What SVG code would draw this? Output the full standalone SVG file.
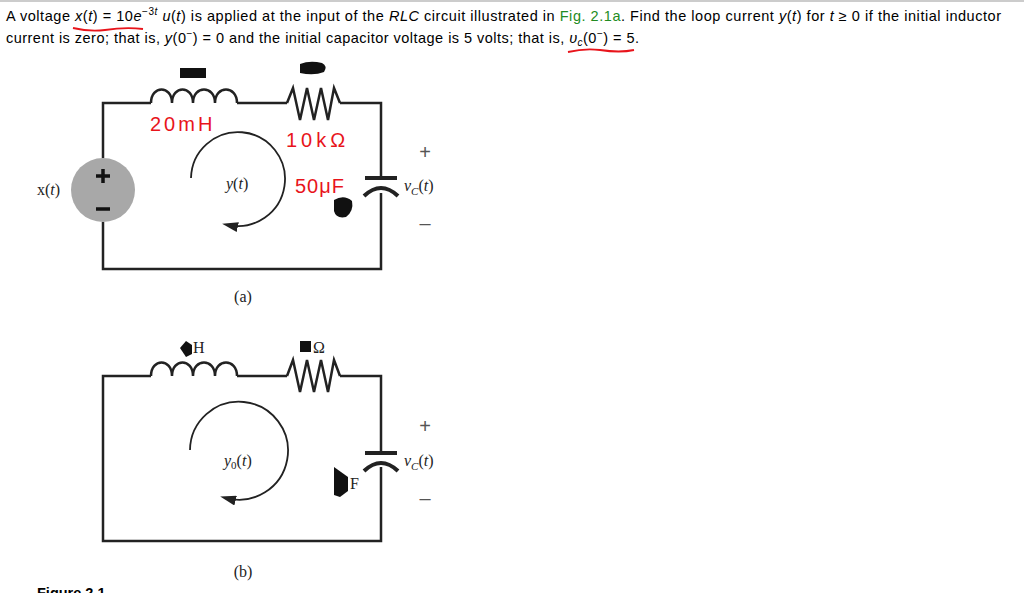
<svg xmlns="http://www.w3.org/2000/svg" width="1024" height="593" viewBox="0 0 1024 593">
<style>
.t{font-family:"Liberation Sans",Arial,sans-serif;font-size:14.5px;fill:#000}
.g{fill:#228B22}
.s{font-family:"Liberation Serif","Times New Roman",serif;font-size:16px;fill:#222}
.pm{font-family:"Liberation Sans",Arial,sans-serif;font-size:20px;fill:#555}
.w{fill:none;stroke:#222;stroke-width:2.5}
.c{fill:none;stroke:#222;stroke-width:4}
.r{font-family:"Liberation Sans",Arial,sans-serif;font-size:20px;fill:#e8141b}
.rl{fill:none;stroke:#e8141b;stroke-width:1.8}
</style>
<defs>
<marker id="ah" markerWidth="16" markerHeight="10" refX="10" refY="5" orient="auto" markerUnits="userSpaceOnUse"><path d="M0,0 L16,5 L0,10 Z" fill="#222"/></marker>
</defs>
<rect width="1024" height="593" fill="#fff"/>
<line x1="0" y1="1" x2="1024" y2="1" stroke="#ccc" stroke-width="2"/>
<text class="t" x="6" y="21" textLength="995" lengthAdjust="spacing">A voltage <tspan font-style="italic">x</tspan>(<tspan font-style="italic">t</tspan>) = 10<tspan font-style="italic">e</tspan><tspan font-size="10" dy="-6">−3<tspan font-style="italic">t</tspan></tspan><tspan dy="6"> <tspan font-style="italic">u</tspan>(<tspan font-style="italic">t</tspan>) is applied at the input of the <tspan font-style="italic">RLC</tspan> circuit illustrated in <tspan class="g">Fig. 2.1a</tspan>. Find the loop current <tspan font-style="italic">y</tspan>(<tspan font-style="italic">t</tspan>) for <tspan font-style="italic">t</tspan> ≥ 0 if the initial inductor</tspan></text>
<text class="t" x="6" y="43" textLength="633" lengthAdjust="spacing">current is zero; that is, <tspan font-style="italic">y</tspan>(0<tspan font-size="10" dy="-6">−</tspan><tspan dy="6">) = 0 and the initial capacitor voltage is 5 volts; that is, <tspan font-style="italic">υ</tspan><tspan font-size="10" dy="3" font-style="italic">c</tspan><tspan dy="-3">(0</tspan><tspan font-size="10" dy="-6">−</tspan><tspan dy="6">) = 5.</tspan></tspan></text>
<path class="rl" d="M73,28 Q90,32 105,30 Q125,27 143,29"/>
<path class="rl" d="M568,52 Q585,48 600,50 Q620,53 634,50"/>

<g id="circuit-a">
<path class="w" d="M151,103 H103 V158 M103,222 V269 H381 V193 M381,178 V103 H340 M287,103 H237"/>
<path class="w" d="M151,103 C151,85 172,85 172,103 C172,85 193,85 193,103 C193,85 215,85 215,103 C215,85 237,85 237,103"/>
<path class="w" d="M287,103 L293,88 L300,120 L307,88 L314,120 L321,88 L328,120 L334,88 L340,103"/>
<circle cx="103" cy="190" r="32" fill="#a8a8a8"/>
<path d="M96,176 H110 M103,169 V183" stroke="#111" stroke-width="3.5"/>
<path d="M96,209 H110" stroke="#111" stroke-width="3.5"/>
<path class="c" d="M365,178 H397"/>
<path class="c" d="M364,196 Q381,180 398,196"/>
<text class="s" x="60" y="195" text-anchor="end">x(<tspan font-style="italic">t</tspan>)</text>
<text class="s" x="226" y="189" font-style="italic">y<tspan font-style="normal">(</tspan>t<tspan font-style="normal">)</tspan></text>
<text class="s" x="404" y="191"><tspan font-style="italic">v</tspan><tspan font-size="11" dy="4" font-style="italic">C</tspan><tspan dy="-4">(<tspan font-style="italic">t</tspan>)</tspan></text>
<text class="pm" x="425" y="159" text-anchor="middle">+</text>
<text class="pm" x="425" y="230" text-anchor="middle">–</text>
<path fill="none" stroke="#222" stroke-width="1.8" marker-end="url(#ah)" d="M191,178 A47,47 0 1 1 228,225"/>
<text class="s" x="243" y="302" text-anchor="middle">(a)</text>
<text class="r" x="150" y="131" letter-spacing="3">20mH</text>
<text class="r" x="286" y="147" letter-spacing="4">10kΩ</text>
<text class="r" x="295" y="193" letter-spacing="1">50μF</text>
<path d="M180,68 h26 v10 h-26 Z" fill="#111"/>
<path d="M300,64 q10,-4 22,-1 q6,3 2,9 q-10,4 -24,1 Z" fill="#111"/>
<path d="M334,200 q10,-6 18,1 q2,10 -6,16 q-10,2 -12,-6 Z" fill="#111"/>
</g>

<g id="circuit-b">
<path class="w" d="M151,376 H103 V541 H381 V467 M381,453 V376 H340 M287,376 H237"/>
<path class="w" d="M151,376 C151,358 172,358 172,376 C172,358 193,358 193,376 C193,358 215,358 215,376 C215,358 237,358 237,376"/>
<path class="w" d="M287,376 L293,360 L300,392 L307,360 L314,392 L321,360 L328,392 L334,360 L340,376"/>
<path class="c" d="M365,453 H397"/>
<path class="c" d="M364,471 Q381,455 398,471"/>
<text class="s" x="224" y="466" font-style="italic">y<tspan font-style="normal" font-size="11" dy="3">0</tspan><tspan font-style="normal" dy="-3">(</tspan>t<tspan font-style="normal">)</tspan></text>
<text class="s" x="404" y="466"><tspan font-style="italic">v</tspan><tspan font-size="11" dy="4" font-style="italic">C</tspan><tspan dy="-4">(<tspan font-style="italic">t</tspan>)</tspan></text>
<text class="pm" x="425" y="433" text-anchor="middle">+</text>
<text class="pm" x="425" y="505" text-anchor="middle">–</text>
<path fill="none" stroke="#222" stroke-width="1.8" marker-end="url(#ah)" d="M190,450 A49,49 0 1 1 226,498"/>
<text class="s" x="243" y="577" text-anchor="middle">(b)</text>
<text class="s" x="193" y="353">H</text>
<text class="s" x="313" y="353">Ω</text>
<text class="s" x="350" y="489">F</text>
<path d="M180,348 l6,-7 l6,4 v9 l-6,3 Z" fill="#111"/>
<path d="M300,341 h11 v11 h-11 Z" fill="#111"/>
<path d="M334,467 l14,10 l0,14 l-8,6 l-6,-2 Z" fill="#111"/>
</g>
<text class="t" x="37" y="598" font-weight="bold" font-size="13">Figure 2.1</text>
</svg>
